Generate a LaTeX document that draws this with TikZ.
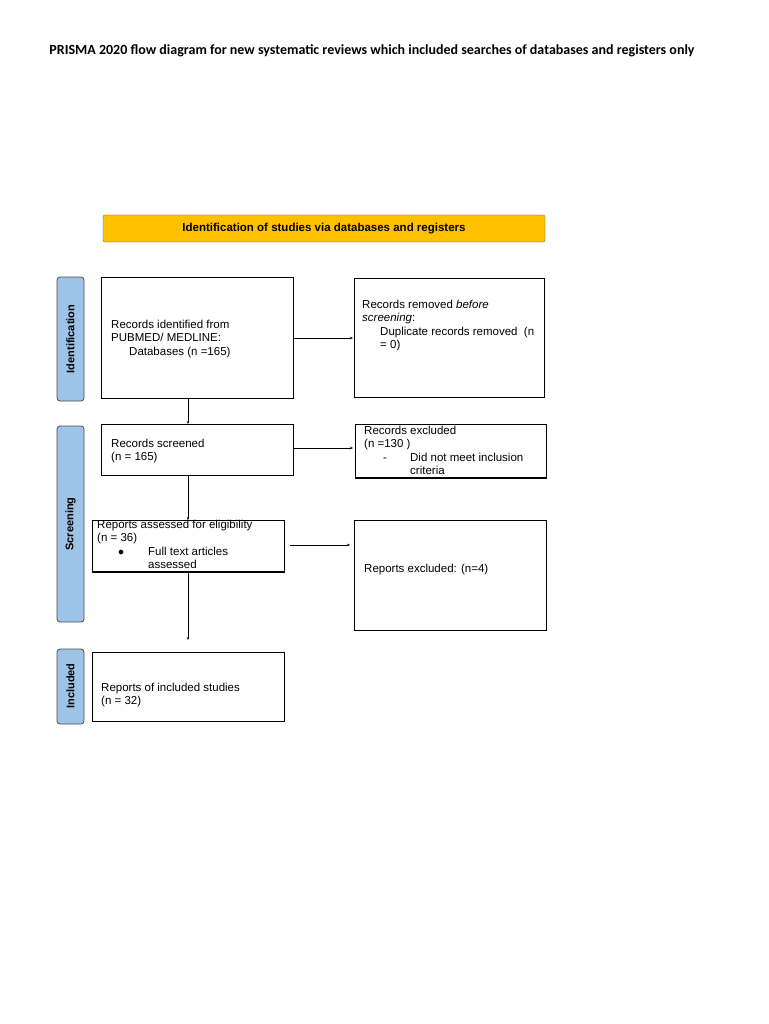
\documentclass[tikz,border=0pt]{standalone}
\usepackage{fontspec}
\setmainfont{Liberation Sans}
\newfontfamily\titlefont{Carlito}
\usepackage{xcolor}
\usetikzlibrary{positioning, arrows.meta}
\definecolor{headyellow}{HTML}{FFC000}
\definecolor{sideblue}{HTML}{9DC3E6}
\tikzset{
  box/.style={draw=black, line width=0.6pt, fill=white, inner sep=0pt},
  txt/.style={anchor=north west, align=left, font=\fontsize{11.5}{13.3}\selectfont, inner sep=0pt},
  side/.style={draw=black!70, line width=0.8pt, fill=sideblue, rounded corners=3pt},
  arrow/.style={line width=0.5pt, -{Stealth[length=3pt,width=2.5pt]}}
}
\begin{document}
\begin{tikzpicture}[x=1pt, y=-1pt]
  \useasboundingbox (0,0) rectangle (768,1024);

  % Title
  \node (title) at (372,51) {\titlefont\bfseries\fontsize{14}{16}\selectfont PRISMA 2020 flow diagram for new systematic reviews which included searches of databases and registers only};

  % Header
  \draw [draw=black!60, fill=headyellow, rounded corners=2pt] (103,215) rectangle (545,242);
  \node (head) at (324,229) {\bfseries\fontsize{11.5}{13}\selectfont Identification of studies via databases and registers};

  % Side labels
  \draw [side] (57,277) rectangle (84,401);
  \node [rotate=90] (lid) at (70.5,339) {\bfseries\fontsize{11}{13}\selectfont Identification};
  \draw [side] (57,426) rectangle (84,622);
  \node [rotate=90] (lsc) at (70.5,524) {\bfseries\fontsize{11}{13}\selectfont Screening};
  \draw [side] (57,649) rectangle (84,724);
  \node [rotate=90] (lin) at (70.5,686) {\bfseries\fontsize{11}{13}\selectfont Included};

  % Boxes
  \draw [box] (101,277) rectangle (293,398);
  \node (ident) [txt] at (111,320) {Records identified from\\PUBMED/ MEDLINE:\\\hspace{18pt}Databases (n =165)};
  \coordinate (identE) at (293,338);
  \coordinate (identS) at (188,398);

  \draw [box] (354,278) rectangle (544,397);
  \node (removed) [txt] at (362,300) {Records removed \textit{before}\\\textit{screening}:\\\hspace{18pt}Duplicate records removed\ \ (n\\\hspace{18pt}= 0)};
  \coordinate (removedW) at (353,338);

  \draw [box] (101,424) rectangle (293,475);
  \node (screened) [txt] at (111,439) {Records screened\\(n = 165)};
  \coordinate (screenN) at (188,424);
  \coordinate (screenE) at (293,448);
  \coordinate (screenS) at (188,475);

  \draw [box] (355,424) rectangle (546,478);
  \draw [line width=1.2pt] (355,478) -- (546,478);
  \node (excluded) [txt] at (364,426) {Records excluded\\(n =130 )\\\makebox[46pt][l]{\hspace{19pt}-}Did not meet inclusion\\\hspace{46pt}criteria};
  \coordinate (excludedW) at (353,448);

  \draw [box] (92,520) rectangle (284,572);
  \draw [line width=1.2pt] (92,572) -- (284,572);
  \node (assessed) [txt] at (97,520) {Reports assessed for eligibility\\(n = 36)\\\makebox[51pt][l]{\hspace{21pt}$\bullet$}Full text articles\\\hspace{51pt}assessed};
  \coordinate (assessN) at (188,520);
  \coordinate (assessE) at (290,545);
  \coordinate (assessS) at (188,572);

  \draw [box] (354,520) rectangle (546,630);
  \node (repexcl) [txt] at (364,564) {Reports excluded: (n=4)};
  \coordinate (repexclW) at (350,545);

  \draw [box] (92,652) rectangle (284,721);
  \node (included) [txt] at (101,683) {Reports of included studies\\(n = 32)};
  \coordinate (inclN) at (188,640);

  % Arrows
  \draw [arrow] (identE) -- (removedW);
  \draw [arrow] (identS) -- (screenN);
  \draw [arrow] (screenE) -- (excludedW);
  \draw [arrow] (screenS) -- (assessN);
  \draw [arrow] (assessE) -- (repexclW);
  \draw [arrow] (assessS) -- (inclN);
\end{tikzpicture}
\end{document}
